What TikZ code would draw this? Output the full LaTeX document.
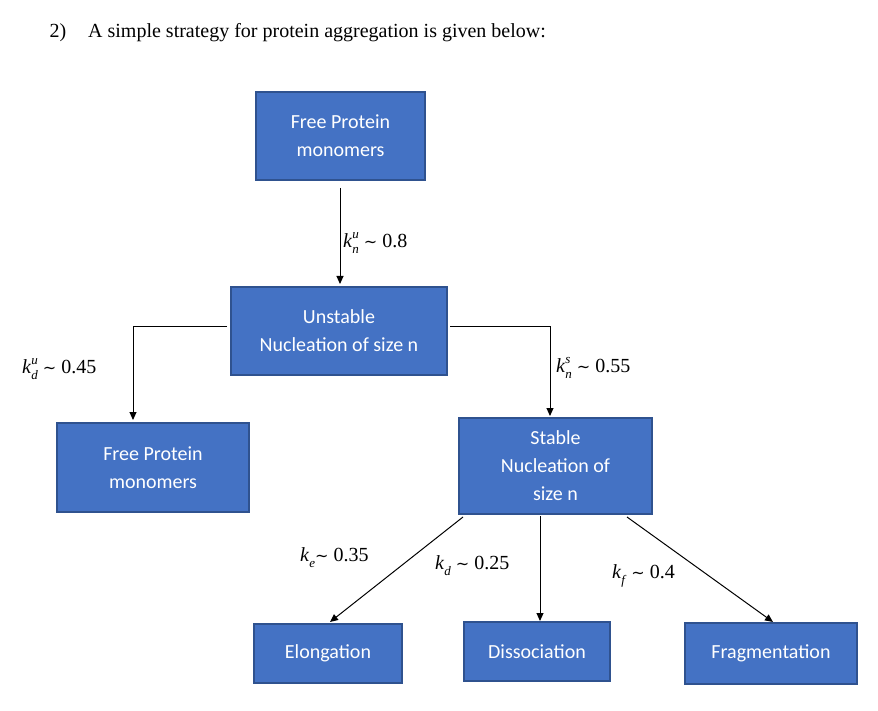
\documentclass[tikz,border=0pt]{standalone}
\usepackage{fontspec}
\setmainfont{Liberation Serif}
\newfontfamily\boxfont{Carlito}
\newfontfamily\symfont{DejaVu Sans}
\usetikzlibrary{arrows.meta}
\newcommand{\kk}[2]{\textit{k}\makebox[0pt][l]{\raisebox{0.45em}{\fontsize{13}{13}\selectfont\textit{#2}}}\raisebox{-0.3em}{\fontsize{13}{13}\selectfont\textit{#1}}}
\newcommand{\tld}{{\symfont\fontsize{16}{16}\selectfont\symbol{"223C}}}
\begin{document}
\begin{tikzpicture}[x=1pt,y=-1pt,
  bx/.style={draw={rgb,255:red,47;green,82;blue,143},fill={rgb,255:red,68;green,114;blue,196},line width=1.2pt,text=white,font=\boxfont\fontsize{20}{28}\selectfont,align=center,inner sep=0pt},
  arr/.style={-{Triangle[length=8pt,width=7pt]},line width=1pt},
  lab/.style={font=\fontsize{20}{24}\selectfont,inner sep=0pt}]
\useasboundingbox (0,0) rectangle (878,711);
\node[anchor=west,font=\fontsize{20}{24}\selectfont] (t) at (46,33) {2)\hspace{1.1em}A simple strategy for protein aggregation is given below:};
\node[bx,minimum width=169pt,minimum height=88pt] (fp) at (340.5,136) {Free Protein\\monomers};
\node[bx,minimum width=216pt,minimum height=88pt] (un) at (339,331) {Unstable\\Nucleation of size n};
\node[bx,minimum width=192pt,minimum height=89pt] (fl) at (153,467.5) {Free Protein\\monomers};
\node[bx,minimum width=193pt,minimum height=96pt] (st) at (555.5,466) {Stable\\Nucleation of\\size n};
\node[bx,minimum width=148pt,minimum height=59pt] (el) at (328,653.5) {Elongation};
\node[bx,minimum width=146pt,minimum height=59pt] (di) at (537,651.5) {Dissociation};
\node[bx,minimum width=172pt,minimum height=61pt] (fr) at (771,653.5) {Fragmentation};
\coordinate (a1) at (340,188); \coordinate (a2) at (340,284);
\draw[arr] (a1) -- (a2);
\coordinate (l1) at (227,326); \coordinate (l2) at (133,326); \coordinate (l3) at (133,420);
\draw[arr] (l1) -- (l2) -- (l3);
\coordinate (r1) at (450,326); \coordinate (r2) at (550,326); \coordinate (r3) at (550,416);
\draw[arr] (r1) -- (r2) -- (r3);
\coordinate (s1) at (463,517); \coordinate (s2) at (330,622);
\coordinate (s3) at (540,516); \coordinate (s4) at (540,621);
\coordinate (s5) at (627,517); \coordinate (s6) at (773,622);
\draw[arr] (s1) -- (s2);
\draw[arr] (s3) -- (s4);
\draw[arr] (s5) -- (s6);
\node[lab,anchor=west] (k1) at (343,243) {\kk{n}{u}\ \tld\ 0.8};
\node[lab,anchor=west] (k2) at (22,369) {\kk{d}{u}\ \tld\ 0.45};
\node[lab,anchor=west] (k3) at (556,368) {\kk{n}{s}\ \tld\ 0.55};
\node[lab,anchor=west] (k4) at (300,558) {\kk{e}{}\tld\ 0.35};
\node[lab,anchor=west] (k5) at (435,566) {\kk{d}{}\ \tld\ 0.25};
\node[lab,anchor=west] (k6) at (612,576) {\kk{f}{}\ \tld\ 0.4};
\end{tikzpicture}
\end{document}
